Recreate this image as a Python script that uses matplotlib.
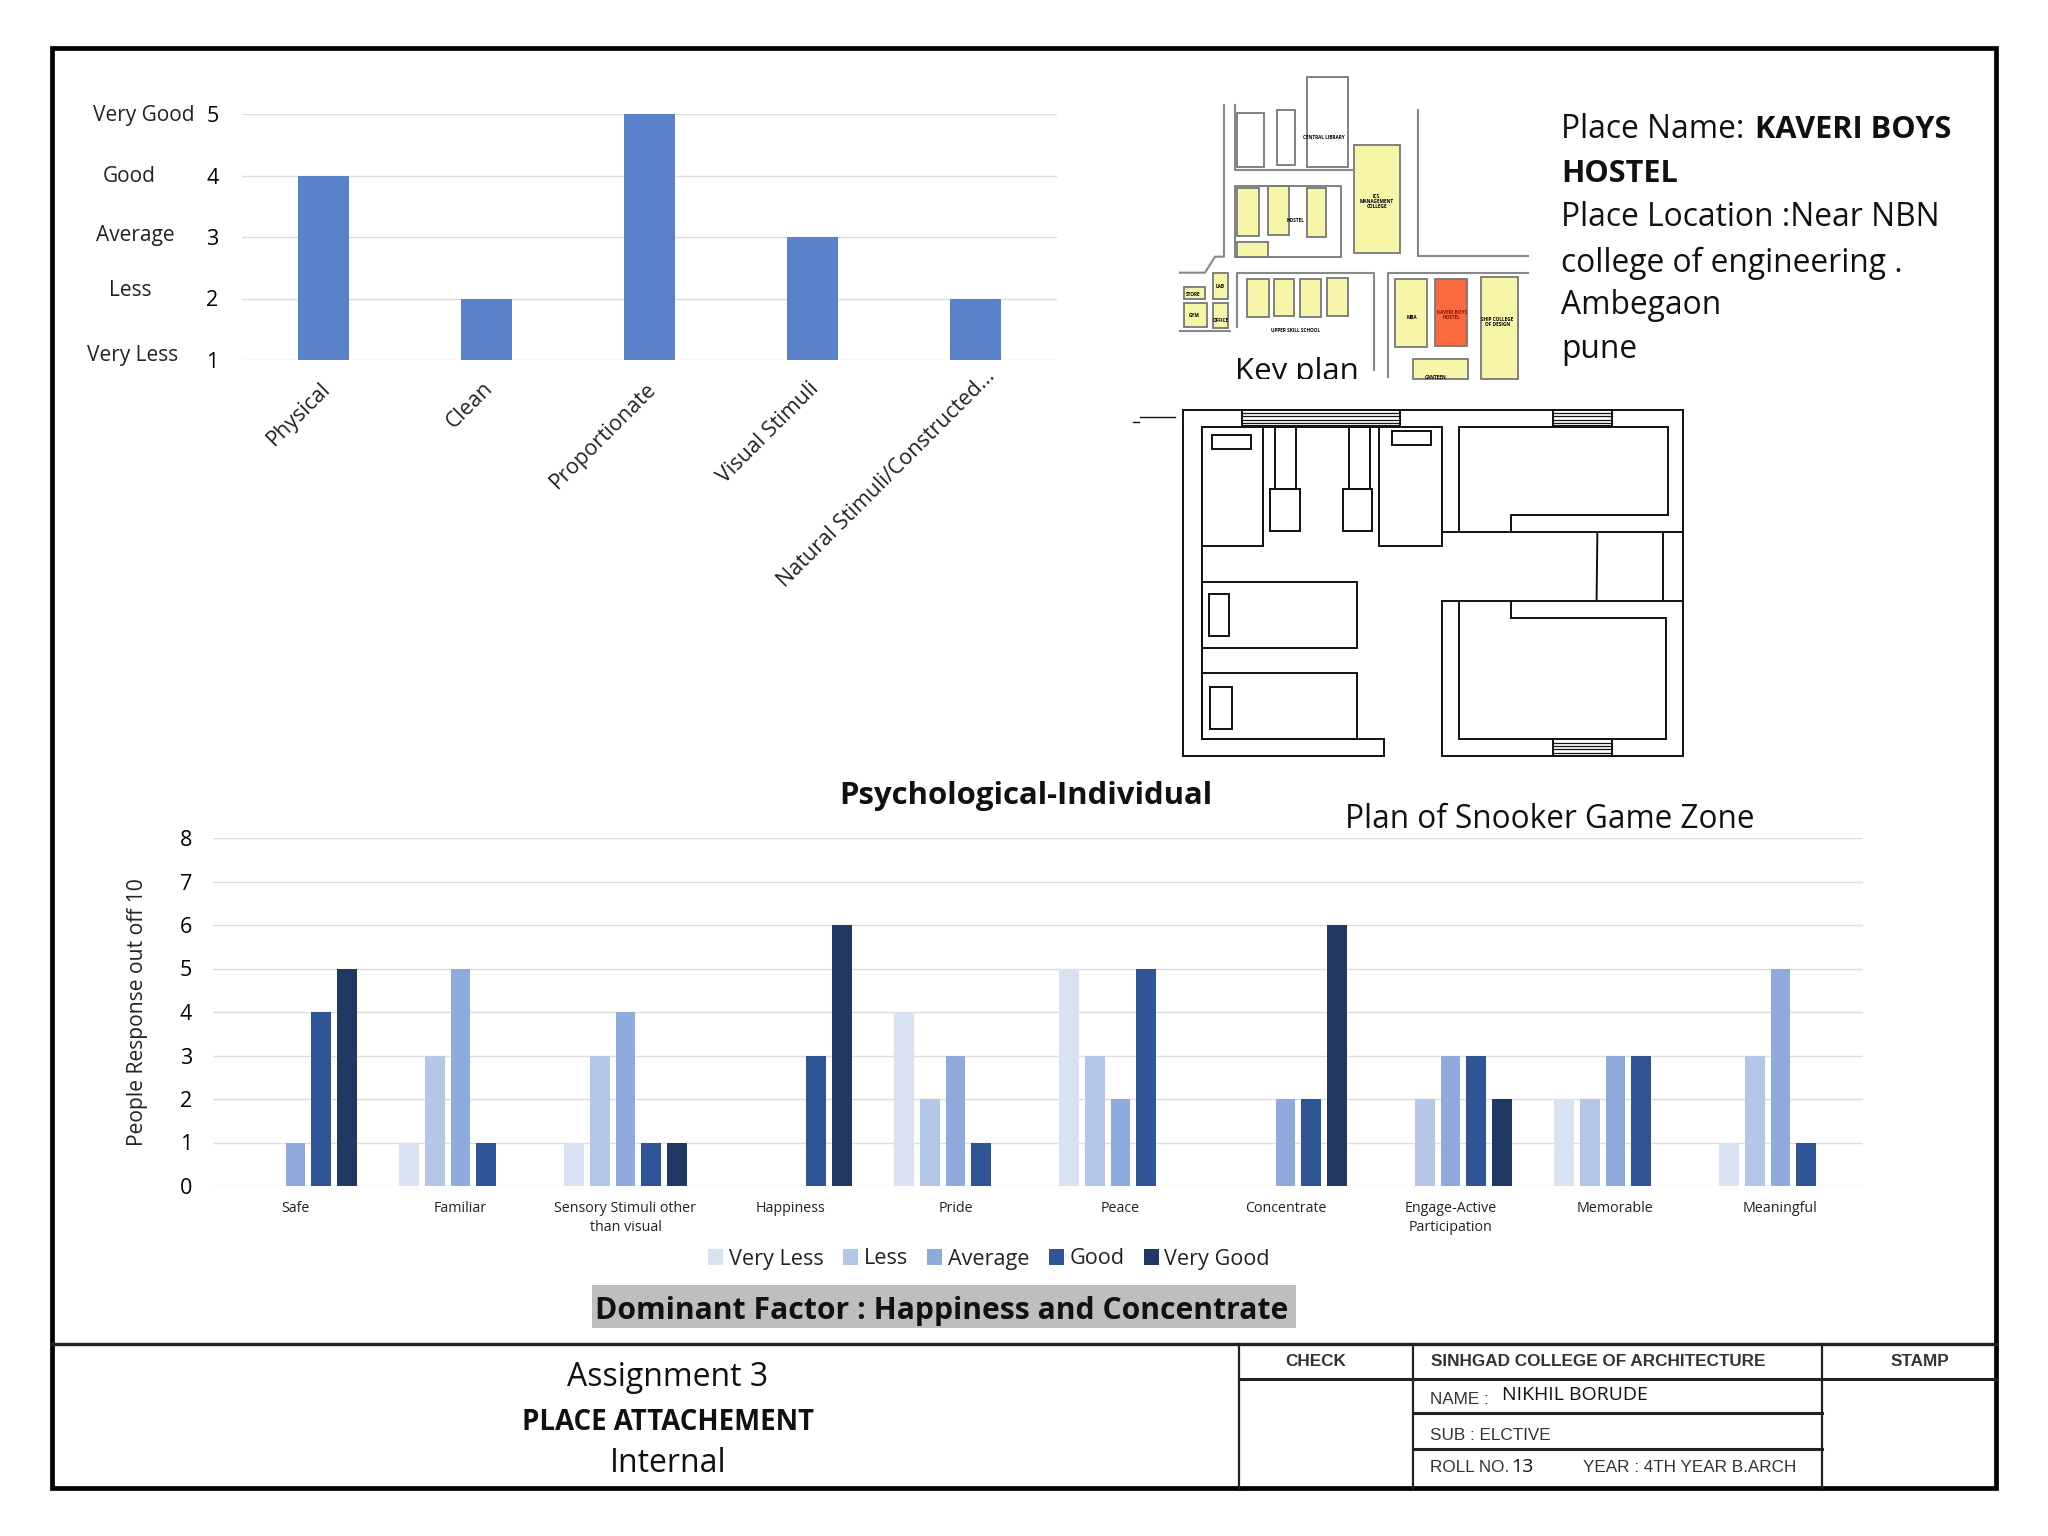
import matplotlib
matplotlib.use('Agg')
import matplotlib.pyplot as plt
from matplotlib.patches import Rectangle
from matplotlib.transforms import ScaledTranslation
import numpy as np

plt.rcParams['font.family'] = ['Open Sans', 'DejaVu Sans']

W, H = 2048, 1536

# ── Data ──────────────────────────────────────────────────────────────────────
phys_cats = ['Physical', 'Clean', 'Proportionate', 'Visual Stimuli', 'Natural Stimuli/Constructed...']
phys_vals = [4, 2, 5, 3, 2]
phys_ticks = [1, 2, 3, 4, 5]

psy_cats = ['Safe', 'Familiar', 'Sensory Stimuli other\nthan visual', 'Happiness', 'Pride',
            'Peace', 'Concentrate', 'Engage-Active\nParticipation', 'Memorable', 'Meaningful']
very_less = [0, 1, 1, 0, 4, 5, 0, 0, 2, 1]
less      = [0, 3, 3, 0, 2, 3, 0, 2, 2, 3]
average   = [1, 5, 4, 0, 3, 2, 2, 3, 3, 5]
good      = [4, 1, 1, 3, 1, 5, 2, 3, 3, 1]
very_good = [5, 0, 1, 6, 0, 0, 6, 2, 0, 0]
psy_series = ['Very Less', 'Less', 'Average', 'Good', 'Very Good']
psy_colors = ['#D9E2F0', '#B4C7E7', '#8FAADC', '#2F5597', '#1F3864']

GRID = '#DDDDDD'
BLUE = '#5A82CA'
YEL = '#F7F5A8'
RED = '#FB6A3C'

fig = plt.figure(figsize=(W / 100, H / 100), dpi=100, facecolor='white')

# page overlay in pixel coordinates
bg = fig.add_axes([0, 0, 1, 1], zorder=0)
bg.set_xlim(0, W); bg.set_ylim(H, 0); bg.axis('off')


def px_axes(x0, y0, x1, y1):
    return fig.add_axes([x0 / W, 1 - y1 / H, (x1 - x0) / W, (y1 - y0) / H], zorder=2, facecolor='none')


# ── Top chart ─────────────────────────────────────────────────────────────────
ax = px_axes(242, 114, 1057, 360)
ax.bar(range(5), phys_vals, width=0.31, color=BLUE)
ax.set_xlim(-0.5, 4.5); ax.set_ylim(1, 5)
ax.set_yticks(phys_ticks)
ax.set_xticks(range(5))
ax.set_xticklabels(phys_cats, rotation=45, ha='right', rotation_mode='anchor', fontsize=15.5, color='#222')
ax.tick_params(length=0, pad=13)
ax.tick_params(axis='y', labelsize=15.5, pad=17)
ax.yaxis.grid(True, color=GRID, lw=1.0)
ax.set_axisbelow(True)
for s in ax.spines.values():
    s.set_visible(False)
# excel nudges the long label up and right, the others slightly left
for i, lab in enumerate(ax.get_xticklabels()):
    dx, dy = (9, 12) if i == 4 else (-4, 0)
    lab.set_transform(lab.get_transform() + ScaledTranslation(dx / 100, dy / 100, fig.dpi_scale_trans))

for txt, x, y in [('Very Good', 144, 116), ('Good', 129, 177), ('Average', 135, 235),
                  ('Less', 130, 291), ('Very Less', 133, 356)]:
    bg.text(x, y, txt, ha='center', va='center', fontsize=15, color='#222')

# ── Bottom chart ──────────────────────────────────────────────────────────────
ax2 = px_axes(213, 838, 1863, 1186)
x = np.arange(10)
for i, (vals, name, col) in enumerate(zip([very_less, less, average, good, very_good], psy_series, psy_colors)):
    ax2.bar(x + (i - 2) * 0.155, vals, width=0.12, color=col, label=name)
ax2.set_xlim(-0.5, 9.5); ax2.set_ylim(0, 8)
ax2.set_yticks(range(9))
ax2.set_xticks(x)
ax2.set_xticklabels(psy_cats, fontsize=10.3, color='#222', linespacing=1.35)
ax2.tick_params(length=0)
ax2.tick_params(axis='y', labelsize=15.5, pad=15)
ax2.tick_params(axis='x', pad=11)
ax2.yaxis.grid(True, color=GRID, lw=1.0)
ax2.set_axisbelow(True)
for s in ax2.spines.values():
    s.set_visible(False)
ax2.set_ylabel('People Response out off 10', fontsize=15.2, color='#222', labelpad=23)
ax2.legend(loc='center', bbox_to_anchor=((989 - 213) / 1650, (1186 - 1259) / 348), ncol=5,
           frameon=False, fontsize=15.6, handlelength=0.7, handleheight=0.7, handletextpad=0.25,
           columnspacing=0.9, labelcolor='#222')

# ── Key plan ──────────────────────────────────────────────────────────────────
def kx(v): return 1140 + v / 3
def ky(v): return 60 + v / 3


def k_rect(x0, y0, x1, y1, fc='white'):
    y1c = min(y1, 958)
    bg.add_patch(Rectangle((kx(x0), ky(y0)), (x1 - x0) / 3, (y1c - y0) / 3, fc=fc, ec='#777', lw=1.3))


def k_line(pts):
    bg.plot([kx(p[0]) for p in pts], [ky(p[1]) for p in pts], color='#888', lw=1.5)


k_line([(285, 135), (285, 330), (642, 330)])
k_line([(252, 135), (252, 590), (225, 590), (195, 638), (120, 638)])
k_line([(835, 150), (835, 587), (1163, 587)])
k_line([(292, 800), (292, 638), (702, 638), (702, 930)])
k_line([(745, 950), (745, 638), (1163, 638)])
k_line([(120, 812), (270, 812)])
for r in [(290, 160, 372, 322), (412, 150, 466, 314), (500, 50, 625, 320), (285, 378, 602, 592)]:
    k_rect(*r)
for r in [(642, 255, 780, 580), (292, 385, 358, 528), (385, 378, 448, 525), (500, 385, 558, 532),
          (290, 545, 385, 590), (322, 658, 386, 770), (403, 658, 463, 768), (480, 658, 542, 770),
          (562, 655, 625, 768), (766, 658, 860, 860), (1024, 650, 1133, 960), (820, 898, 985, 960),
          (132, 682, 196, 716), (132, 730, 200, 802), (220, 640, 264, 716), (220, 730, 264, 805)]:
    k_rect(*r, fc=YEL)
k_rect(886, 656, 980, 858, fc=RED)

for txt, zx, zy, c in [('CENTRAL LIBRARY', 553, 233, 'black'), ('ICS\nMANAGEMENT\nCOLLEGE', 710, 425, 'black'),
                       ('HOSTEL', 467, 481, 'black'), ('UPPER SKILL SCHOOL', 467, 812, 'black'),
                       ('MBA', 815, 772, 'black'), ('KAVERI BOYS\nHOSTEL', 935, 765, '#8A1010'),
                       ('SHIP COLLEGE\nOF DESIGN', 1072, 786, 'black'), ('CANTEEN', 888, 952, 'black'),
                       ('LAB', 241, 680, 'black'), ('GYM', 162, 766, 'black'), ('OFFICE', 241, 780, 'black'),
                       ('STORE', 160, 705, 'black')]:
    bg.text(kx(zx), ky(zy), txt, ha='center', va='center', fontsize=3.4, fontweight='bold', color=c,
            linespacing=1.0, clip_on=True, clip_path=Rectangle((1180, 60), 240, 319, transform=bg.transData))

t = bg.text(1297, 372, 'Key plan', ha='center', va='center', fontsize=22.5, color='#111')
t.set_clip_path(Rectangle((1180, 340), 240, 39, transform=bg.transData))
t.set_clip_on(True)

# ── Place details ─────────────────────────────────────────────────────────────
bg.text(1561, 130, 'Place Name:', va='center', fontsize=22.9, color='#111')
bg.text(1755, 130, 'KAVERI BOYS', va='center', fontsize=22.1, fontweight='bold', color='#111')
bg.text(1561, 174, 'HOSTEL', va='center', fontsize=22.1, fontweight='bold', color='#111')
for txt, y in [('Place Location :Near NBN', 218), ('college of engineering .', 263),
               ('Ambegaon', 306), ('pune', 350)]:
    bg.text(1561, y, txt, va='center', fontsize=22.9, color='#111')

# ── Floor plan ────────────────────────────────────────────────────────────────
def fx(v): return 1183 + (v - 165) * 0.3826
def fy(v): return 410 + (v - 60) * 0.3327


def f_line(pts, lw=1.4):
    bg.plot([fx(p[0]) for p in pts], [fy(p[1]) for p in pts], color='#111', lw=lw, solid_joinstyle='miter')


def f_rect(x0, y0, x1, y1):
    f_line([(x0, y0), (x1, y0), (x1, y1), (x0, y1), (x0, y0)])


f_line([(690, 1050), (690, 1100), (165, 1100), (165, 60), (1472, 60), (1472, 1100), (842, 1100), (842, 633), (1472, 633)])
f_line([(215, 110), (215, 1050), (690, 1050)])
f_line([(215, 110), (843, 110), (843, 470), (678, 470), (678, 110)])
f_line([(375, 110), (375, 470), (215, 470)])
for r in [(240, 135, 343, 178), (712, 122, 813, 165), (405, 110, 460, 298), (598, 110, 654, 298),
          (393, 298, 470, 425), (583, 298, 660, 425), (215, 578, 620, 776), (232, 612, 284, 740),
          (215, 852, 620, 1050), (236, 893, 292, 1020)]:
    f_rect(*r)
f_line([(843, 428), (1472, 428)])
f_line([(887, 428), (887, 110), (1432, 110), (1432, 375), (1022, 375), (1022, 428)])
f_line([(1248, 430), (1246, 633)])
f_line([(1420, 430), (1420, 633)])
f_line([(887, 633), (887, 1050), (1428, 1050), (1428, 685), (1022, 685), (1022, 633)])
for x0, x1, y0, y1 in [(320, 733, 60, 108), (1132, 1285, 60, 108), (1132, 1285, 1050, 1100)]:
    f_rect(x0, y0, x1, y1)
    for yy in np.linspace(y0, y1, 6)[1:-1]:
        f_line([(x0, yy), (x1, yy)], lw=0.9)
f_line([(52, 80), (143, 80)], lw=1.0)
f_line([(35, 95), (50, 95)], lw=1.0)

# ── Captions ──────────────────────────────────────────────────────────────────
bg.text(1026, 796, 'Psychological-Individual', ha='center', va='center', fontsize=22.4, fontweight='bold', color='#111')
bg.text(1550, 820, 'Plan of Snooker Game Zone', ha='center', va='center', fontsize=22.7, color='#111')
bg.add_patch(Rectangle((592, 1285), 704, 43, fc='#BFBDBF', ec='none'))
bg.text(942, 1311, 'Dominant Factor : Happiness and Concentrate', ha='center', va='center', fontsize=21.7,
        fontweight='bold', color='#111')

# ── Frame and title block ─────────────────────────────────────────────────────
bg.add_patch(Rectangle((52, 48), 1944, 1440, fc='none', ec='black', lw=3.4))
for x0, y0, x1, y1, lw in [(52, 1344, 1996, 1344, 2.4), (1239, 1344, 1239, 1488, 1.6),
                           (1413, 1344, 1413, 1488, 1.6), (1822, 1344, 1822, 1488, 1.6),
                           (1239, 1379, 1996, 1379, 2.2), (1413, 1413, 1822, 1413, 2.2),
                           (1413, 1449, 1822, 1449, 2.2)]:
    bg.plot([x0, x1], [y0, y1], color='#222', lw=lw)

bg.text(668, 1378, 'Assignment 3', ha='center', va='center', fontsize=23, color='#111')
bg.text(668, 1422, 'PLACE ATTACHEMENT', ha='center', va='center', fontsize=19.9, fontweight='bold', color='#111')
bg.text(668, 1464, 'Internal', ha='center', va='center', fontsize=23, color='#111')

NARROW = ['Liberation Sans', 'DejaVu Sans']
for txt, x, y, ha, fw in [('CHECK', 1316, 1362, 'center', 'bold'), ('SINHGAD COLLEGE OF ARCHITECTURE', 1431, 1362, 'left', 'bold'),
                          ('STAMP', 1920, 1362, 'center', 'bold'), ('NAME :', 1430, 1399, 'left', 'normal'),
                          ('SUB : ELCTIVE', 1430, 1435, 'left', 'normal'), ('ROLL NO.', 1430, 1468, 'left', 'normal'),
                          ('YEAR : 4TH YEAR B.ARCH', 1583, 1468, 'left', 'normal')]:
    bg.text(x, y, txt, ha=ha, va='center', fontsize=12.3, fontweight=fw, color='#333', family=NARROW)
bg.text(1502, 1395, 'NIKHIL BORUDE', va='center', fontsize=14, color='#111')
bg.text(1511, 1467, '13', va='center', fontsize=14, color='#111')

fig.savefig('out.png', dpi=100, facecolor='white')
